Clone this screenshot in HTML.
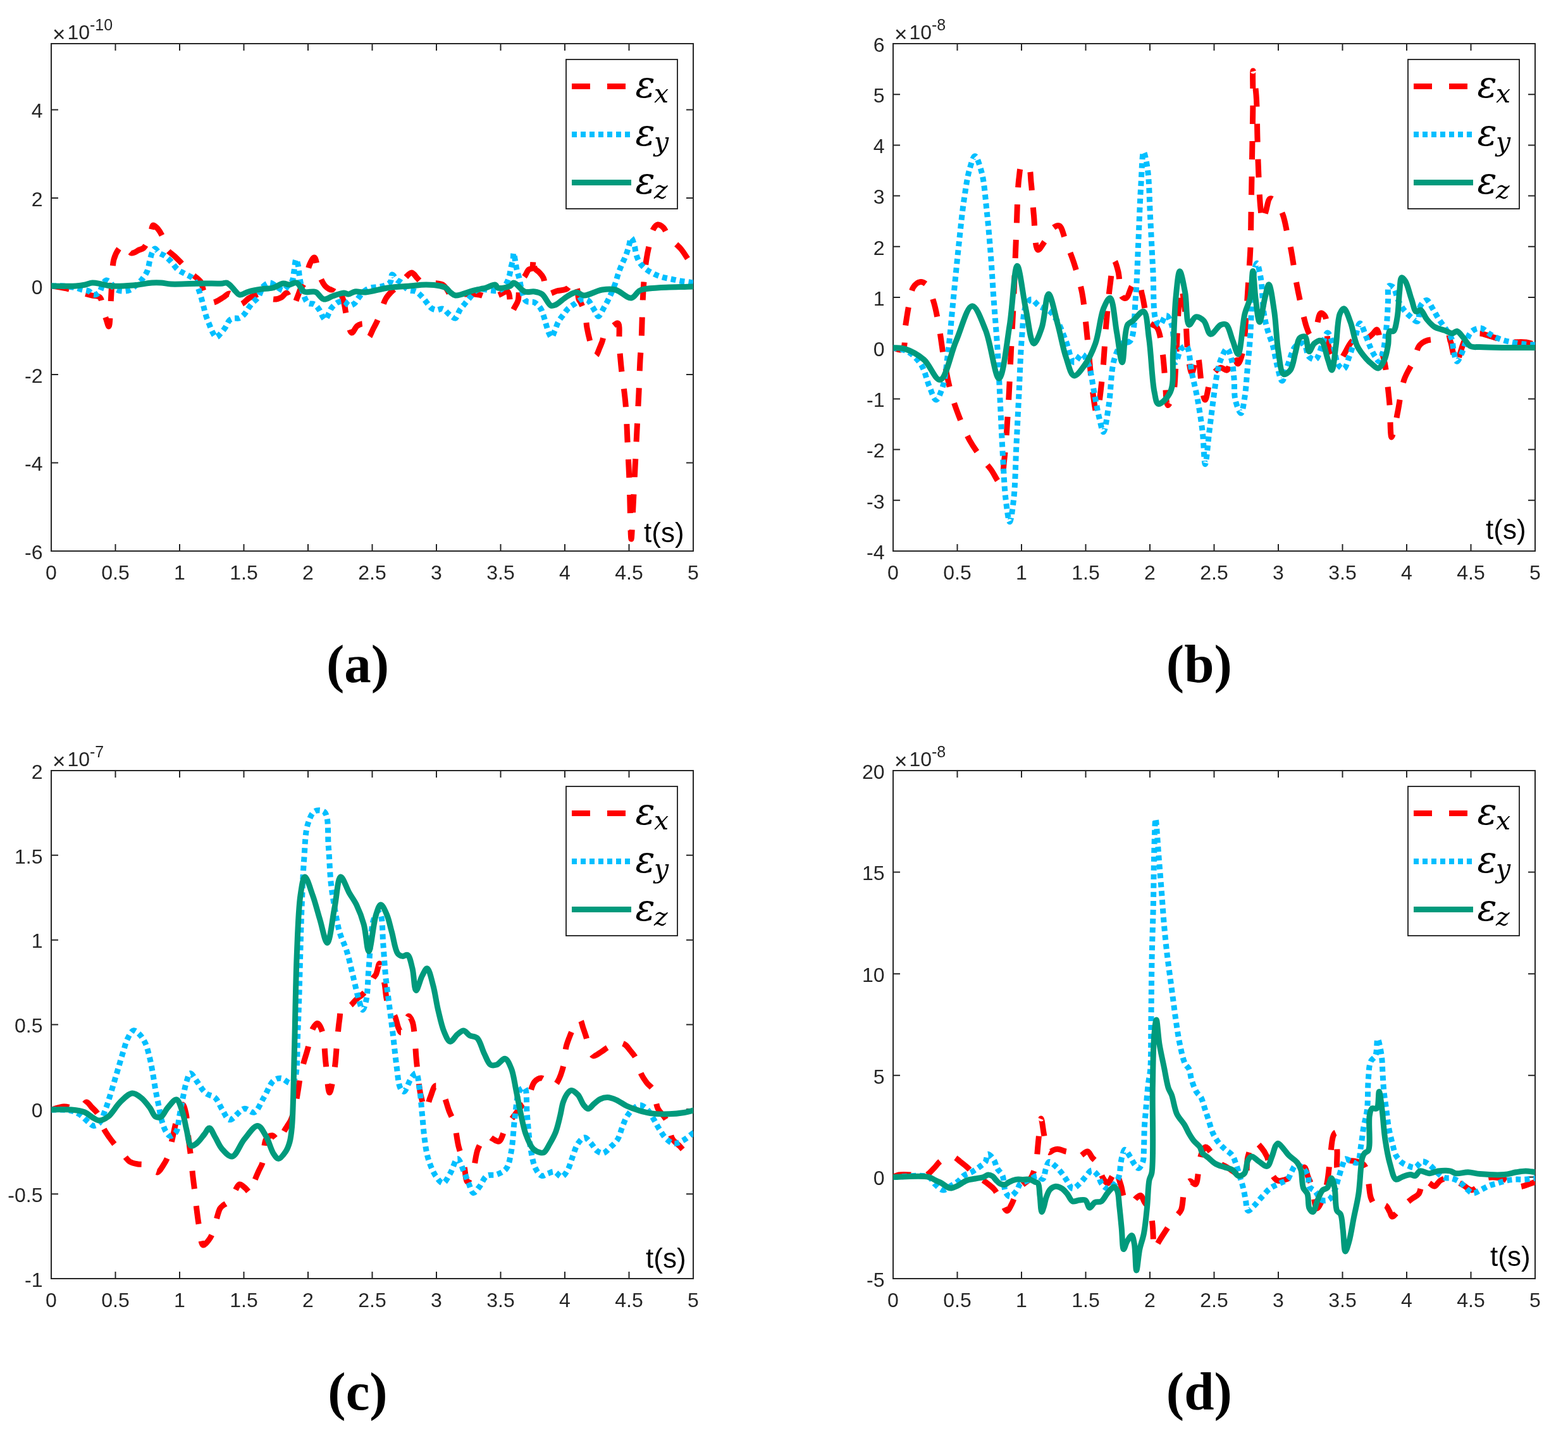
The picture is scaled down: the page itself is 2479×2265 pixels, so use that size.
<!DOCTYPE html><html><head><meta charset="utf-8"><title>Figure</title><style>html,body{margin:0;padding:0;background:#fff;}svg{display:block}.tk{font-family:"Liberation Sans",Arial,Helvetica,sans-serif;font-size:32px;fill:#262626}.ex{font-family:"Liberation Sans",Arial,Helvetica,sans-serif;fill:#262626}.ts{font-family:"Liberation Sans",Arial,Helvetica,sans-serif;font-size:44px;fill:#000}.lg{font-family:"DejaVu Serif","Liberation Serif",serif;font-style:italic;font-size:58px;fill:#000}.lgs{font-family:"DejaVu Serif","Liberation Serif",serif;font-style:italic;font-size:41px}.cap{font-family:"Liberation Serif","Times New Roman",serif;font-weight:bold;font-size:85px;fill:#000}</style></head><body>
<svg width="2479" height="2265" viewBox="0 0 2479 2265">
<rect width="2479" height="2265" fill="#fff"/>
<g id="axa">
<clipPath id="cla"><rect x="81" y="69" width="1015" height="802"/></clipPath>
<path d="M81,871v-11M81,69v11M182.5,871v-11M182.5,69v11M284,871v-11M284,69v11M385.5,871v-11M385.5,69v11M487,871v-11M487,69v11M588.5,871v-11M588.5,69v11M690,871v-11M690,69v11M791.5,871v-11M791.5,69v11M893,871v-11M893,69v11M994.5,871v-11M994.5,69v11M1096,871v-11M1096,69v11M81,871h11M1096,871h-11M81,731.5h11M1096,731.5h-11M81,592h11M1096,592h-11M81,452.6h11M1096,452.6h-11M81,313.1h11M1096,313.1h-11M81,173.6h11M1096,173.6h-11" stroke="#262626" stroke-width="2" fill="none"/>
<rect x="81" y="69" width="1015" height="802" fill="none" stroke="#262626" stroke-width="2"/>
<g clip-path="url(#cla)" fill="none" stroke-width="9" stroke-linejoin="round">
<path d="M81,452C85.7,452.7 90.7,453.3 95,454C98.6,454.6 101.3,455.1 105,456C109.5,457.1 115.5,458.7 120,460C123.7,461 126.3,462 130,463C134.5,464.3 140.2,465.8 145,467C149.5,468.1 155,467.1 158,470C161.7,473.7 161.2,483.8 163,490C164.6,495.4 166.4,500.4 168,505C169.4,509 170.9,516.1 172,516C173.9,515.8 174.2,491.9 175,480C175.8,468.3 176.2,456.7 177,445C177.8,433.3 177.5,419.4 180,410C181.8,403.1 185,397.2 188,393C190.2,389.9 192.3,386 195,386C198.7,386.1 203.4,399 208,400C211.8,400.8 216.5,396.5 220,395C222.6,393.9 224.9,393.8 227,392C229.8,389.5 232,384.3 234,380C236.1,375.4 237.5,369.4 239,365C240.1,361.6 240.3,356.6 242,356C243.5,355.5 246,358 248,360C250.8,362.8 253.6,367.2 256,372C259.1,378.1 260.2,388.3 264,394C267.2,398.8 272,401.2 276,405C280,408.9 283.9,412.7 288,417C292.5,421.7 297.1,427.3 302,432C306.8,436.6 313.7,440 317,445C320,449.5 320.2,455.6 322,460C323.5,463.7 324.8,467 327,470C329.2,473 332.1,477.2 335,478C337.5,478.7 340.3,477.1 343,476C346.2,474.7 349.7,472 353,470C356.3,468 360.2,463.5 363,464C365.8,464.5 367.3,470.2 370,473C372.9,475.9 376.3,480.9 380,481C384.2,481.1 389.7,473.4 394,471C397.2,469.2 400,468.2 403,467C406,465.8 408.5,463.8 412,464C417.4,464.3 426,472.4 432,473C436.7,473.5 441.4,471.9 445,470C448.2,468.3 450.8,462.6 453,463C455.1,463.4 456.3,468.8 458,472C459.9,475.5 462.1,483.1 464,483C466.1,482.9 468.1,474.5 470,470C472.1,465.2 473.8,459 476,455C477.6,452.1 479.4,451.4 481,448C484.2,441.5 486.5,424.3 490,417C492.1,412.5 494.9,406.6 497,407C500.2,407.5 501.6,426.9 505,435C507.8,441.8 511,449.2 515,453C518,455.8 522.3,458.7 525,458C527.6,457.3 529.1,448.9 531,449C533.1,449.1 535.1,456 537,460C539.1,464.6 541.3,469.3 543,475C545.1,482.2 545.9,491.6 548,500C550.2,508.6 552.5,525.3 556,526C558.6,526.5 561.5,517.3 565,515C568,513 572.5,510.8 575,512C577.8,513.4 578.6,521.2 580,525C581.1,528 581.7,532.9 583,533C584.8,533.1 587.7,524.4 590,520C592.4,515.4 594.9,510.9 597,506C599.2,500.9 600.9,495.5 603,490C605.2,484.2 607.1,476.9 610,472C612.3,468 614.9,465.2 618,462C621.4,458.5 626.3,455.7 630,452C633.7,448.3 636.4,443.6 640,440C643.4,436.6 647.6,430.8 651,431C654.2,431.2 657,437.2 660,440C662.7,442.5 664.3,445.5 668,447C673.4,449.2 685.1,447.2 691,448C694.7,448.5 697.4,448.5 700,450C702.8,451.7 704.8,455 707,458C709.5,461.3 710.8,467.6 714,469C716.9,470.3 721.4,467.7 725,467C728.4,466.3 731,465.3 735,465C741.1,464.5 751,464.8 758,466C764.2,467 769.6,471.2 775,471C779.9,470.9 784.3,467.7 789,466C793.7,464.3 799.8,459.1 803,461C807.9,463.9 805.2,493.4 808,494C809.6,494.4 812.2,488.1 814,485C815.9,481.8 817.7,479.3 819,475C821,468.3 819.5,455 822,448C823.8,442.9 827.6,439.8 830,436C832.2,432.5 833.7,427.9 836,426C837.5,424.7 839.8,425.6 841,424C843.4,420.9 842.7,404 843.5,404C844.2,404 843.3,419.5 845.5,424C847,427 849.9,427.7 852,430C854.4,432.6 857,435 859,439C862,445 861.4,461.4 866,464C869.4,465.9 875.1,461.3 880,460C885.4,458.6 892.8,458.9 897,456C900.8,453.3 902.4,444 905,444C907.4,444 910.3,450.7 912,455C914,460.1 913.5,468.9 915,473C915.8,475.3 916.9,475.8 918,478C920,482.1 923.3,489.6 925,496C926.8,502.9 926.7,510.7 928,518C929.3,525.4 931.3,533.7 933,540C934.3,544.9 935.4,549.1 937,553C938.4,556.4 940.3,562 942,562C943.9,562 946.3,553.9 948,550C949.6,546.5 950.6,543.7 952,540C953.6,535.5 954.3,528.9 957,525C959.5,521.5 963.6,519.4 967,517C970.3,514.7 974.8,509.8 977,511C980.8,513 978.2,532.8 979,544C979.8,555.5 980.7,565.8 982,579C983.7,596.1 987.3,618.3 989,638C990.7,657.6 991,677 992,697C993,717.7 994.1,737 995,760C996.1,787.8 996.8,852 998,852C998.9,852 1000,818 1001,800C1002,780.7 1003,760 1004,740C1005,720 1006,700 1007,680C1008,660 1009.1,639.1 1010,620C1010.8,602.6 1011.2,584.5 1012,570C1012.6,558.7 1013.4,551.7 1014,540C1014.8,523.4 1015.2,497.3 1016,480C1016.6,466.8 1017,456.7 1018,445C1019,433.3 1020.3,420.7 1022,410C1023.4,400.9 1025.1,393.1 1027,385C1028.8,377.1 1030,367.2 1033,362C1034.9,358.6 1037.4,355.4 1040,355C1042.7,354.6 1046.5,357.5 1049,360C1052,362.9 1053.2,368.2 1056,372C1058.9,375.9 1062.5,379.4 1066,383C1069.5,386.7 1073.4,389.6 1077,394C1081.4,399.3 1086.4,408.3 1090,413C1092.3,416 1094,417.7 1096,420" stroke="#ff0000" stroke-dasharray="29 27"/>
<path d="M81,452C87.3,452 93.6,451.5 100,452C106.6,452.5 114.5,453.8 120,455C123.9,455.9 126.6,457.2 130,458C133.3,458.8 137,458.7 140,460C143,461.3 145.2,465.7 148,466C150.8,466.3 154.6,464.4 157,462C160,459 160.7,451.3 163,448C164.5,445.7 166.1,443.3 168,443C170,442.7 173,445.1 175,447C177.1,449 177.5,452.9 180,455C182.9,457.5 187.8,459.5 192,460C196.4,460.6 201.8,459.8 206,458C210.2,456.2 213.7,452 217,449C220,446.3 222.5,444.2 225,441C227.9,437.3 231,432.8 233,428C235.1,422.9 235.6,416.3 237,411C238.3,406.4 239.3,401.2 241,398C242.2,395.8 243.4,393.1 245,393C247,392.9 249.4,398.1 252,400C254.4,401.8 257.3,402.2 260,404C263.3,406.2 266.7,409.6 270,413C273.7,416.8 276.9,422.6 281,426C284.7,429.1 288.9,430.6 293,433C297.3,435.6 302.7,437.4 306,441C309.4,444.7 311,450.2 313,455C315,459.8 316.5,465 318,470C319.5,475 320.7,480 322,485C323.3,490 324.4,495.2 326,500C327.5,504.5 329.3,508.8 331,513C332.6,517.1 334,521.5 336,525C337.7,528.1 339.9,532.8 342,533C343.9,533.2 346,530.1 348,528C350.6,525.3 353.5,521.6 356,518C358.6,514.3 360.2,508.5 363,506C365.1,504.2 367.5,503.5 370,503C372.5,502.5 375.5,503.8 378,503C380.8,502.1 383.8,499.3 386,497C388.1,494.9 389.2,492.5 391,490C393.1,487 395.3,483.2 398,480C400.9,476.5 405,474.1 408,470C411.5,465.1 413.2,455.8 417,452C419.9,449.1 423.5,446.8 427,447C431.1,447.2 436.1,452.9 440,455C442.9,456.6 445.6,459.4 448,459C450.6,458.6 452.7,454.5 455,452C457.4,449.5 460.3,447.4 462,444C464,439.8 464,433.5 465,428C466,422.2 466.7,410.1 468,410C468.9,409.9 470.1,414.6 471,418C472.4,423.5 472.6,432.4 474,440C475.5,448.3 477.3,459 480,466C482,471.2 483.8,476.6 487,479C489.7,481 494.1,479.3 497,481C500.2,482.8 502.8,486.8 505,490C507.1,493.1 508.3,497.3 510,500C511.3,502 512.6,505.1 514,505C515.9,504.9 518.3,498.2 520,495C521.5,492.2 522,489.6 524,487C526.4,483.9 530.4,479.8 534,478C537.1,476.4 541,475.2 544,476C547,476.8 549.2,482.5 552,483C554.5,483.5 557.7,481.7 560,480C562.5,478.2 563.8,474.9 566,472C568.7,468.6 571.6,463.9 575,461C578,458.4 581.7,456.1 585,455C587.7,454.1 590,454.4 593,454C596.8,453.5 602,453.4 606,452C609.9,450.7 614.7,449 617,446C619.3,443 618.2,434.4 620,434C621.7,433.6 624.4,439.8 627,442C629.4,444.1 632.3,444.8 635,447C638.3,449.8 641,455.7 645,458C648.8,460.2 654.2,459 658,461C661.8,463 665,466.8 668,470C671,473.1 673.5,477 676,480C678.1,482.6 679.6,485.3 682,487C684.3,488.6 687.1,489.8 690,490C693.1,490.3 697,487.2 700,488C703,488.8 705.5,492.9 708,495C710.1,496.8 711.9,498.6 714,500C715.9,501.3 718.2,503.6 720,503C722.7,502.1 724.4,493.9 727,490C729.4,486.3 732.2,483.4 735,480C737.9,476.4 741,472.5 744,469C747,465.6 749.7,461 753,459C755.8,457.4 758.7,457.1 762,457C765.9,456.9 770.5,458.7 775,459C779.8,459.4 785.8,460.7 790,459C794.1,457.3 797.5,452.8 800,449C802.4,445.4 803.7,441.3 805,437C806.4,432.3 806.9,426.7 808,422C809,417.8 810.3,413.8 811,410C811.6,406.5 811.4,400 812,400C813,400 815.3,418.7 817,426C818.3,431.4 819.7,435 821,440C822.4,445.8 823.1,452.9 825,459C826.8,464.9 828.2,473 832,476C835.3,478.6 841.2,476.1 845,478C848.9,480 852.5,484.1 855,488C857.5,491.8 858.5,496.6 860,501C861.5,505.5 862.6,510.5 864,515C865.3,519.2 866.4,523.8 868,527C869.2,529.4 870.7,533.1 872,533C873.7,532.9 875.3,526.7 877,523C879,518.5 880.5,512.5 883,508C885.3,503.9 888.4,500.5 891,497C893.4,493.8 895.2,490.7 898,488C901.1,485 905.3,482.5 909,480C912.6,477.5 916.3,473.7 920,473C923.3,472.4 927.4,473.2 930,475C932.7,476.8 934,480.9 936,484C938,487.2 940.2,491.1 942,494C943.4,496.3 944.4,500 946,500C948.4,500 952.2,490.8 955,486C957.9,481.1 960.4,476.5 963,471C966,464.6 969.4,456.9 972,450C974.4,443.6 975.9,436.9 978,431C979.9,425.7 982,420.6 984,416C985.7,412 987.4,409 989,405C990.8,400.4 992.5,394.9 994,390C995.5,385.3 996.4,376.1 998,376C999.5,375.9 1001.7,383.7 1003,388C1004.4,392.7 1004.5,398.3 1006,403C1007.5,407.6 1009.3,412.2 1012,416C1014.7,419.8 1018.3,423.2 1022,426C1025.7,428.8 1029.8,431 1034,433C1038.2,435 1042.5,436.7 1047,438C1051.5,439.3 1056.3,440 1061,441C1065.7,442 1070.2,443.2 1075,444C1079.9,444.8 1086.1,445.4 1090,446C1092.5,446.4 1094,446.7 1096,447" stroke="#00bfff" stroke-dasharray="8 6"/>
<path d="M81,452C94,452 110.1,452.7 120,452C126.2,451.6 130.4,450.9 135,450C139,449.2 142.1,447.2 146,447C150.4,446.7 155.3,448.2 160,449C164.9,449.8 168.9,451.5 175,452C184.2,452.8 198.8,451.9 210,451C220.4,450.2 231.7,447.6 240,447C245.8,446.6 250,446.7 255,447C260,447.3 263.5,448.6 270,449C281.8,449.7 305.2,448.1 320,448C331.9,447.9 345.6,448.5 352,448C354.8,447.8 356,446.5 358,447C360.4,447.5 362.8,450 365,452C367.5,454.2 369.6,457.6 372,460C374.3,462.2 376.1,465.5 379,466C382.7,466.7 387.9,462.4 393,461C399,459.3 406.5,458 413,457C419.1,456 425.2,456.5 431,455C436.9,453.5 443.2,448.4 448,448C451.4,447.7 453.8,450 457,450C460.7,450 465.3,445.8 469,447C473.5,448.4 476.3,458.8 481,461C485.1,462.9 491.5,460.7 495,461C497.1,461.2 498.1,461 500,462C503.3,463.7 507.5,472.1 512,473C516.3,473.9 521,469.6 526,468C531.6,466.2 539.4,463 544,463C546.9,463 548.5,465.1 551,465C554.1,464.8 557.1,461.6 561,461C565.8,460.2 571.4,462.5 578,462C587.6,461.3 601.3,456.7 613,455C624.6,453.3 637.2,452.9 648,452C657.3,451.2 665.7,449.9 674,450C681.6,450.1 690.3,450.8 696,452C699.7,452.8 702.4,453.4 705,455C707.7,456.7 709.5,460 712,462C714.5,464 716.3,466.5 720,467C726.5,468 740.3,461.1 749,459C756,457.3 762.1,456.6 768,455C773.3,453.6 779.8,449 783,450C785.1,450.6 784.8,454.1 787,455C790.9,456.5 802.8,454.1 807,452C809.5,450.7 809.7,447.1 812,447C816.1,446.7 823.9,458.9 830,461C834.9,462.7 840.3,460.2 845,461C849.3,461.7 853.2,462.3 857,465C862.1,468.6 866.6,481.2 871,483C873.4,484 875.3,483.1 878,482C882.8,480.1 890.1,472.5 896,469C901.1,466 906.3,462.1 911,462C915.2,461.9 918.1,466.8 923,467C930.5,467.4 943,459.4 952,458C959.5,456.9 965.9,456.3 973,458C981.2,460 991.1,471.8 998,471C1003.6,470.4 1006.1,461.7 1012,459C1019.2,455.7 1028.3,456 1039,455C1054.5,453.6 1077,453.7 1096,453" stroke="#009a7c"/>
</g>
<text class="tk" x="81" y="916" text-anchor="middle">0</text>
<text class="tk" x="182.5" y="916" text-anchor="middle">0.5</text>
<text class="tk" x="284" y="916" text-anchor="middle">1</text>
<text class="tk" x="385.5" y="916" text-anchor="middle">1.5</text>
<text class="tk" x="487" y="916" text-anchor="middle">2</text>
<text class="tk" x="588.5" y="916" text-anchor="middle">2.5</text>
<text class="tk" x="690" y="916" text-anchor="middle">3</text>
<text class="tk" x="791.5" y="916" text-anchor="middle">3.5</text>
<text class="tk" x="893" y="916" text-anchor="middle">4</text>
<text class="tk" x="994.5" y="916" text-anchor="middle">4.5</text>
<text class="tk" x="1096" y="916" text-anchor="middle">5</text>
<text class="tk" x="67.5" y="883.7" text-anchor="end">-6</text>
<text class="tk" x="67.5" y="744.2" text-anchor="end">-4</text>
<text class="tk" x="67.5" y="604.7" text-anchor="end">-2</text>
<text class="tk" x="67.5" y="465.3" text-anchor="end">0</text>
<text class="tk" x="67.5" y="325.8" text-anchor="end">2</text>
<text class="tk" x="67.5" y="186.3" text-anchor="end">4</text>
<text class="ex" x="83" y="65.5" font-size="35">×</text>
<text class="ex" x="106.5" y="61.7" font-size="32">10</text>
<text class="ex" x="142" y="47.8" font-size="25">-10</text>
<text class="ts" x="1018" y="857">t(s)</text>
<rect x="895" y="94" width="176" height="236" fill="#fff" stroke="#1a1a1a" stroke-width="1.8"/>
<line x1="904" y1="136.5" x2="998" y2="136.5" stroke="#ff0000" stroke-width="9" stroke-dasharray="29 27"/>
<text class="lg" x="1004.5" y="153.5">ε<tspan class="lgs" x="1034" y="162.0">x</tspan></text>
<line x1="904" y1="212.5" x2="998" y2="212.5" stroke="#00bfff" stroke-width="9" stroke-dasharray="8 6"/>
<text class="lg" x="1004.5" y="229.5">ε<tspan class="lgs" x="1034" y="238.0">y</tspan></text>
<line x1="904" y1="288.5" x2="998" y2="288.5" stroke="#009a7c" stroke-width="9"/>
<text class="lg" x="1004.5" y="305.5">ε<tspan class="lgs" x="1034" y="314.0">z</tspan></text>
</g>
<g id="axb">
<clipPath id="clb"><rect x="1412" y="69" width="1015" height="802"/></clipPath>
<path d="M1412,871v-11M1412,69v11M1513.5,871v-11M1513.5,69v11M1615,871v-11M1615,69v11M1716.5,871v-11M1716.5,69v11M1818,871v-11M1818,69v11M1919.5,871v-11M1919.5,69v11M2021,871v-11M2021,69v11M2122.5,871v-11M2122.5,69v11M2224,871v-11M2224,69v11M2325.5,871v-11M2325.5,69v11M2427,871v-11M2427,69v11M1412,871h11M2427,871h-11M1412,790.8h11M2427,790.8h-11M1412,710.6h11M2427,710.6h-11M1412,630.4h11M2427,630.4h-11M1412,550.2h11M2427,550.2h-11M1412,470h11M2427,470h-11M1412,389.8h11M2427,389.8h-11M1412,309.6h11M2427,309.6h-11M1412,229.4h11M2427,229.4h-11M1412,149.2h11M2427,149.2h-11M1412,69h11M2427,69h-11" stroke="#262626" stroke-width="2" fill="none"/>
<rect x="1412" y="69" width="1015" height="802" fill="none" stroke="#262626" stroke-width="2"/>
<g clip-path="url(#clb)" fill="none" stroke-width="9" stroke-linejoin="round">
<path d="M1410,549.5C1415.7,550.3 1423.3,554.8 1427,552C1432.3,548 1429.5,529.4 1431.2,517.7C1433,505.3 1435.1,491 1437.5,479.6C1439.5,470.2 1440.2,460 1443.9,454.2C1446.6,450 1450.8,446.2 1454.5,445.7C1457.9,445.2 1462,447 1465,450C1469.7,454.7 1472.6,465.9 1475.6,475.4C1479.2,486.7 1481.5,499.6 1484.1,513.5C1487.2,530.1 1489.3,550.6 1492.6,568.5C1495.7,585.8 1499,603.7 1503.2,619.3C1506.9,633 1511,644.8 1515.9,657.4C1520.9,670.2 1526.6,684.4 1532.8,695.6C1538.1,705.2 1543.9,713.1 1549.7,721C1555.2,728.5 1561.3,735 1566.7,742.1C1571.9,749.1 1578,764.1 1581.5,763.3C1585.8,762.3 1586.1,740.5 1587.9,725.2C1590.6,702.6 1592.4,668.7 1594.2,640.5C1595.9,612.3 1597,584 1598.4,555.8C1599.8,527.5 1601.4,500.8 1602.7,471C1604.2,437.7 1605.4,398.6 1606.9,365.3C1608.2,335.5 1608.6,298.7 1611.1,280.6C1612.3,271.9 1612.1,263.7 1615.4,261.5C1617.9,259.9 1623.5,261 1626,263.6C1629.9,267.6 1629,279.1 1630.2,289C1631.9,303 1632.7,322.5 1634.4,339.8C1636.2,357.8 1635.9,393.4 1640.8,394.9C1643.5,395.7 1647.9,387.1 1651.4,382.2C1655.7,376.2 1659.3,365.1 1664.1,361C1667.4,358.2 1671.7,355.5 1674.7,356.8C1679.4,358.8 1681.6,373.1 1685.2,382.2C1689.3,392.6 1694,403.7 1698,416C1702.6,430.2 1707.5,446.6 1710.7,462.6C1713.9,479.1 1715.2,497.3 1717,513.5C1718.6,528.2 1719.6,540.3 1721.2,555.8C1723.1,574.8 1725,601.5 1727.6,619.3C1729.5,632.4 1731.7,653.2 1733.9,653.2C1736.6,653.2 1740.1,618.6 1742.4,598.2C1745.3,573.1 1746.5,539.7 1748.8,513.5C1750.8,490.8 1752.6,468.5 1755.1,450C1757,435.6 1758.8,412.1 1761.5,411.8C1763.3,411.6 1766,421.8 1767.8,428.8C1770.5,439.3 1769.9,463.9 1774.2,469C1775.9,471.1 1778.5,471.9 1780.5,471.1C1784.3,469.5 1787,454.1 1791.1,450C1793.7,447.4 1797.3,444.7 1799.6,445.7C1803,447.2 1803.6,458.6 1805.9,466.9C1809.1,478.6 1810.7,501 1816.5,509.2C1819.9,514.1 1825.9,512.9 1829.2,517.7C1834.5,525.4 1835.6,542.7 1837.7,555.8C1839.9,569.5 1840.5,584.1 1841.9,598.2C1843.3,612.3 1843.1,639.9 1846.2,640.5C1848.3,640.9 1852.5,630.9 1854.6,623.6C1857.9,612.1 1857.6,594.9 1858.9,577C1860.6,553 1861.3,514.9 1863.1,492.3C1864.3,477.1 1865.5,454.2 1867.3,454.2C1869.1,454.1 1872,477.9 1873.7,492.3C1875.9,510.7 1875.6,538 1877.9,555.8C1879.6,568.9 1881.7,589.6 1884.3,589.7C1886.7,589.8 1890.2,559.8 1892.7,560C1896.2,560.2 1898.3,606.9 1901.2,619.3C1902.6,625.2 1903.8,632 1905.4,632C1908.2,631.9 1910.6,602.7 1916,593.9C1919.8,587.8 1925.5,582.1 1930,581.2C1933.4,580.6 1937.2,586.3 1940,585C1944.4,583 1945.8,560.2 1949,560C1951.5,559.8 1954.5,575.1 1957,575C1959.8,574.8 1963,563.5 1965,555C1968.3,541.4 1968.5,518.7 1970,500C1971.5,480.4 1972.8,459.1 1974,440C1975.1,422.6 1976.3,407.1 1977,390C1977.7,372.1 1977.7,353.3 1978,335C1978.3,316.7 1978.7,298.7 1979,280C1979.3,260.4 1979.7,240 1980,220C1980.3,200 1980.8,178.9 1981,160C1981.1,143.1 1980,112.1 1981,112C1981.9,111.9 1984.8,135.4 1986,150C1987.6,169.8 1987.3,197.6 1988,220C1988.6,240.8 1989.1,260.9 1990,280C1990.8,297.4 1991.6,317.1 1993,330C1993.9,338.2 1994.5,349.9 1996,350C1997.3,350.1 1999.2,340.4 2001,335C2003.1,328.6 2004.5,315.4 2008,314C2010.2,313.1 2013.4,315.6 2016,318C2020.2,322 2024.9,331.2 2028,339C2031.4,347.7 2032.8,358.6 2035,368C2037.1,376.9 2039,383.7 2041,394C2043.9,408.9 2047.1,433.6 2050,449C2052.1,460.2 2053.9,468.6 2056,478C2058,486.9 2060.1,496.7 2062,504C2063.4,509.4 2064.3,513.6 2066,518C2067.6,522.2 2069.6,529.7 2072,530C2074.3,530.2 2077.7,524.4 2080,520C2083.3,513.8 2084.4,496.2 2088,495C2090,494.3 2093.2,496.9 2095,500C2099.2,507.2 2097,533.2 2100,545C2102,553.2 2104.2,560.9 2108,565C2110.7,568 2115.2,570.7 2118,570C2120.9,569.3 2122.4,564 2125,560C2128.6,554.5 2132.3,544.8 2137,540C2140.8,536.1 2145.8,532.5 2150,532C2153.4,531.5 2156.8,535.5 2160,535C2163.5,534.4 2167.1,530.5 2170,528C2172.7,525.8 2175,520.4 2177,521C2180.5,522 2181.7,542.1 2184,552C2186.1,561.1 2188.4,568.8 2190,578C2191.8,588.1 2192.8,599.5 2194,610C2195.1,620.2 2196.1,628.7 2197,640C2198.2,654.7 2197.8,690.7 2200,691C2201.3,691.2 2203.5,681 2205,675C2206.9,667.6 2208,659.8 2210,650C2212.8,636.2 2215.1,614.3 2220,600C2224,588.4 2230.7,579.6 2235,570C2238.9,561.4 2239.8,550.5 2245,545C2249.4,540.4 2256.6,537.6 2262,537C2266.5,536.5 2270.5,540.2 2275,540C2279.9,539.8 2286.3,533.1 2290,535C2294.8,537.4 2295.6,552.7 2298,560C2299.8,565.6 2301.3,575 2303,575C2304.7,575 2305.9,565.6 2308,560C2310.7,552.7 2312.6,540.5 2318,535C2322.7,530.2 2330.4,527.5 2337,527C2343.7,526.4 2350.7,530 2358,532C2366.2,534.2 2375,538.5 2384,540C2393.3,541.6 2405,539.8 2413,541C2418.9,541.9 2423,543.7 2428,545" stroke="#ff0000" stroke-dasharray="29 27"/>
<path d="M1410,549.5C1418.5,551.6 1427.8,551.5 1435.4,555.8C1443.5,560.4 1451.1,568.4 1456.6,577C1462.7,586.4 1465,601 1469.3,610.9C1472.8,618.9 1476.4,632 1479.9,632C1483.4,632 1487.6,619.9 1490.5,610.9C1494.9,597.1 1496.4,576.2 1499,555.8C1502.2,530.6 1504.6,499.2 1507.4,471C1510.2,442.8 1513,413.5 1515.9,386.4C1518.6,361.4 1521.1,335.7 1524.3,314.4C1526.9,297.2 1529.2,280.3 1532.8,267.9C1535.3,259.3 1538.3,246.7 1541.3,246.7C1544.6,246.7 1549,261.4 1551.9,272C1556.3,288.2 1557.9,313.7 1560.3,335.6C1562.9,358.8 1564.9,384.4 1566.7,407.6C1568.4,429.4 1569.3,448.3 1570.9,471C1572.8,497.2 1575.5,527.5 1577.3,555.8C1579.1,584 1580.1,612.3 1581.5,640.5C1582.9,668.7 1584.2,699 1585.7,725.2C1587,747.9 1587.8,770.6 1590,788.7C1591.7,802.4 1594.2,824.7 1596.3,824.7C1598.4,824.7 1601,803.3 1602.7,788.7C1605.2,766.5 1605.5,732.2 1606.9,704C1608.3,675.8 1609.7,647.5 1611.1,619.3C1612.5,591.1 1613.3,559.2 1615.4,534.6C1617.1,515.5 1617.4,494.1 1621.7,483.8C1623.9,478.5 1626.9,473.5 1630.2,473.2C1633.9,472.8 1638.2,480.7 1642.9,483.8C1648,487.1 1655,488.3 1659.8,492.3C1664.9,496.6 1668.6,502.5 1672.5,509.2C1677.3,517.5 1681.1,528.6 1685.2,538.9C1689.6,549.8 1692.7,571.6 1698,572.7C1701.7,573.5 1706.9,559.6 1710.7,560C1714.7,560.5 1718.3,569.7 1721.2,577C1725.4,587.7 1726.9,605.2 1729.7,619.3C1732.5,633.4 1735.3,650.1 1738.2,661.7C1740.3,670 1742.4,682.9 1744.5,682.8C1747.4,682.7 1750.4,656.5 1753,640.5C1756.3,619.7 1756.3,586.1 1761.5,568.5C1764.8,557.5 1768.8,547.6 1774.2,543C1777.9,539.8 1783.6,542.9 1786.9,538.9C1794.4,529.8 1793.3,494.9 1795.4,471C1797.7,444.4 1798.2,415.3 1799.6,386.4C1801,356.1 1802.1,320 1803.8,293.3C1805.1,273.1 1805.7,240.5 1808,240.3C1809.7,240.2 1812.8,256.3 1814.4,267.9C1817.1,286.9 1817.2,317.9 1818.6,344C1820.1,371.5 1821.4,401.3 1822.9,428.8C1824.3,454.9 1822.6,492.6 1827.1,505C1828.8,509.6 1831.1,513.5 1833.5,513.5C1836.6,513.5 1840.8,498.4 1844,498.6C1847.1,498.7 1850.3,506.6 1852.5,513.5C1856.7,526.4 1855.3,572.2 1858.9,572.7C1861.1,573 1863.5,555.7 1867.3,551.6C1869.7,548.9 1873.4,546.2 1875.8,547.3C1880.8,549.7 1881.4,576 1884.3,589.7C1887,602.8 1890.1,613.9 1892.7,627.8C1895.8,644.4 1899.1,664.8 1901.2,682.8C1903.2,700.1 1903.6,733.7 1905.4,733.7C1907.2,733.7 1909.7,699.8 1911.8,682.8C1913.9,665.9 1916,648.1 1918.2,632C1920.2,617.2 1922.1,601.3 1924.5,589.7C1926.2,581.4 1927.3,575.1 1930,568.5C1932.6,562.2 1937.1,550.8 1940,551C1942.7,551.2 1945.2,561.4 1947,568C1949.3,576.5 1950,587.7 1951,598C1952.1,609 1950.7,622.2 1953,632C1954.9,640 1959.6,653.2 1962,653C1964.6,652.8 1966.4,636.8 1968,627C1970,614.7 1970.7,599.7 1972,585C1973.5,568.8 1975.3,551.3 1976.5,534C1977.7,516 1977.9,496.9 1979,479C1980.1,461.8 1980.8,439.6 1983,428.5C1984.1,422.8 1985.6,416 1987,416C1989,416.1 1991.8,431.1 1993.5,441C1995.9,454.9 1995.6,477.3 1997.7,492C1999.4,503.3 2001.4,512.3 2004,521.7C2006.4,530.5 2010.1,538.1 2012.5,547C2015.1,556.5 2016.5,567.5 2019,577C2021.3,585.8 2024.2,601.9 2027,602C2029.8,602.1 2032.6,585.7 2036,577C2039.7,567.4 2042.9,552.2 2048.5,547C2052.1,543.7 2057.7,541.5 2061,543C2065.4,545 2065.6,560 2069.7,564C2072.6,566.8 2077,569.2 2080,568C2084.7,566 2087.6,550.5 2091,543C2093.8,536.8 2096.3,526 2099,526C2102,526.1 2105.3,539.3 2108,547C2111.1,556 2111.9,571.2 2116,577C2118.4,580.4 2122.2,583.7 2124.7,583C2128.2,582 2130.3,570.9 2133,564C2136,556.2 2138.8,547.3 2141.6,538.6C2144.5,529.6 2146.7,511.2 2150,511C2153.1,510.8 2157.6,527 2160.6,534C2163.1,539.8 2164.7,544.9 2167,550C2169.2,554.9 2171.8,560.2 2174.3,564C2176.2,566.9 2178.5,571.6 2180.3,571.3C2182.6,571 2184.7,562.8 2186.3,557C2188.6,548.8 2189.8,536.2 2191,526C2192.2,516.2 2192.9,506.2 2193.5,497C2194,488.7 2194.2,481.1 2194.6,473.4C2195,466.1 2193.1,453.7 2195.8,451.9C2197.4,450.8 2201,452.3 2203,454.3C2206.3,457.5 2207.2,467.4 2210,473.4C2212.8,479.3 2215.9,485.1 2219.7,490C2223.2,494.6 2227.8,498.8 2231.7,502C2234.9,504.5 2238.7,509 2241,508C2244.5,506.5 2242.7,488.8 2246,483C2248.4,478.9 2252.6,474.3 2255.6,474.6C2259,475 2262,483 2265,487.7C2268.3,492.9 2271.2,498.9 2274.7,504.4C2278.3,510.1 2283.1,515.8 2286.6,521.2C2289.8,526.1 2293,530 2295,535.5C2297.3,541.8 2297,550.6 2298.6,557C2299.9,562.3 2301.4,571.1 2303.4,571.3C2305.4,571.5 2308.3,563.9 2310.5,559.4C2313.2,553.9 2314.9,546.4 2317.7,540.3C2320.4,534.4 2322.7,527.1 2327,523.5C2330.9,520.3 2336.9,518.2 2341.6,518.8C2346.6,519.5 2351.1,525.5 2356,528.3C2360.7,531 2365.3,533.5 2370.3,535.5C2375.6,537.6 2380.9,539 2387,540.3C2394.2,541.9 2403.7,543.2 2411,544C2417.1,544.7 2422.3,544.7 2428,545" stroke="#00bfff" stroke-dasharray="8 6"/>
<path d="M1410,549.5C1417.1,550.2 1423.8,549.2 1431.2,551.6C1440.5,554.6 1451.9,560.9 1460.8,568.5C1470.5,576.8 1478.5,601.4 1486.2,600.3C1496,598.9 1502.9,558.7 1511.6,538.9C1519.9,520 1528.6,484.1 1537,483.8C1544.1,483.5 1551.9,506.6 1558.2,521.9C1566.7,542.6 1573.2,598.4 1579.4,598.2C1585.9,598 1591.6,542.5 1596.3,513.5C1601.2,483.3 1603.5,420.5 1608.2,420.3C1612.2,420.2 1617.1,466.6 1621.7,488C1625.9,507.3 1629.1,542.4 1634.4,543C1638.1,543.4 1643.6,528 1647.1,517.7C1652,503.5 1653.4,465 1657.7,464.8C1661.9,464.6 1667.9,497 1672.5,513.5C1677.1,530.2 1680.3,549.8 1685.2,564.3C1689.1,575.7 1692.5,592.9 1698,593.9C1702.7,594.8 1709.8,584.1 1714.9,577C1721.4,568 1727.1,556 1731.8,543C1737.5,527.1 1739.2,500.8 1744.5,488C1747.7,480.4 1752.1,470.4 1755.1,471C1760.1,471.9 1762.4,508.6 1765.7,526.2C1768.7,542.4 1771.5,572.8 1774.2,572.7C1777.2,572.6 1777,522.9 1782.6,513.5C1784.9,509.5 1787.8,509.7 1791.1,507.1C1795.8,503.3 1803.9,490.9 1808,492.3C1813.7,494.2 1814,518 1816.5,534.6C1820,557.9 1821.2,601.3 1825,619.3C1826.9,628.1 1827.6,637.5 1831.3,638.4C1835.6,639.4 1846.2,628.6 1850.4,619.3C1856.9,605 1853.3,578.5 1854.6,555.8C1856.1,529.6 1856.6,494.3 1858.9,471C1860.6,454.5 1862.6,428.9 1865.2,428.8C1867.6,428.7 1871.4,450.1 1873.7,462.6C1876.5,477.8 1875.3,512.1 1880,513.5C1882.7,514.3 1886.5,501.7 1890.6,500.8C1894.4,500 1899.7,503.5 1903.3,507.1C1907.9,511.7 1909.3,527.5 1913.9,528.3C1918.3,529.1 1925.1,515.6 1930,513.5C1933,512.2 1936,511.4 1938.5,513C1943,515.9 1945.7,530.5 1949,538.6C1952,546 1954.9,560 1957.5,559.7C1961.8,559.2 1963.9,512.2 1968,496C1970.6,485.6 1974.4,480.6 1976.5,471C1979.1,458.8 1979.4,428.5 1980.8,428.5C1982.2,428.5 1983.2,457.3 1985,471C1986.7,484.1 1988.9,508.9 1991.4,509C1993.9,509.1 1997,481.8 1999.8,471C2001.9,462.8 2003.9,449.6 2006,449.7C2008.9,449.8 2012.2,476.4 2014.6,492C2017.5,511 2018,537.4 2021,555.5C2023.3,569.3 2024.6,589.5 2029.5,591.5C2032.3,592.7 2037.2,588.7 2040,585C2044.5,579.1 2045.9,564.5 2048.5,555.5C2050.7,547.8 2051.2,537.7 2054.8,534.3C2057,532.2 2061,530.9 2063.3,532.2C2067,534.4 2066.8,555 2069.7,555.5C2072,555.9 2074.5,545.6 2078,542.8C2081,540.3 2085.7,537.2 2088.7,538.6C2093.7,540.9 2096.2,559.5 2099.3,568C2101.7,574.4 2103.8,585.2 2105.6,585C2108.3,584.7 2110,560.6 2112,547C2114.3,531.3 2114.4,505.5 2118.3,496C2120.1,491.7 2122.5,487.6 2124.7,487.8C2128,488.1 2131.9,500.7 2135,509C2139.1,519.7 2140.9,536.7 2145.8,547C2149.7,555.1 2155.5,561.8 2160,567C2163.3,570.8 2166.3,573.4 2169.6,576C2172.6,578.4 2176.1,582.5 2179,582C2182.5,581.4 2186.2,574.3 2188.7,569C2191.8,562.5 2193.2,552.8 2194.6,545C2195.9,537.7 2194.2,526 2197,523.5C2198.5,522.2 2201.3,524.8 2203,523.5C2206.2,521.1 2207.5,510.4 2209,502C2211.1,490.7 2211.2,473 2212.6,461.4C2213.6,452.7 2213.5,439.5 2216,438.7C2217.5,438.2 2220.1,441.6 2222,444.7C2225.6,450.5 2228.6,464.8 2231.7,473.4C2234.2,480.4 2235.6,490.9 2238.9,492.5C2240.9,493.4 2243.7,489.2 2246,490C2249.4,491.1 2252,500 2255.6,504.4C2259.2,508.8 2262.8,513.4 2267.5,516.4C2272.3,519.5 2279.2,520.5 2284.3,522.4C2288.6,524 2292.6,527.1 2296,527C2298.8,526.9 2300.9,523.1 2303.4,523.5C2306.6,524 2309.7,529.4 2313,533C2316.9,537.2 2320.3,544.9 2325,547.4C2329.1,549.5 2333.2,548.3 2339,548.6C2348.2,549.1 2361.8,549.3 2375,549.4C2391,549.6 2410.3,549.4 2428,549.4" stroke="#009a7c"/>
</g>
<text class="tk" x="1412" y="916" text-anchor="middle">0</text>
<text class="tk" x="1513.5" y="916" text-anchor="middle">0.5</text>
<text class="tk" x="1615" y="916" text-anchor="middle">1</text>
<text class="tk" x="1716.5" y="916" text-anchor="middle">1.5</text>
<text class="tk" x="1818" y="916" text-anchor="middle">2</text>
<text class="tk" x="1919.5" y="916" text-anchor="middle">2.5</text>
<text class="tk" x="2021" y="916" text-anchor="middle">3</text>
<text class="tk" x="2122.5" y="916" text-anchor="middle">3.5</text>
<text class="tk" x="2224" y="916" text-anchor="middle">4</text>
<text class="tk" x="2325.5" y="916" text-anchor="middle">4.5</text>
<text class="tk" x="2427" y="916" text-anchor="middle">5</text>
<text class="tk" x="1398.5" y="883.7" text-anchor="end">-4</text>
<text class="tk" x="1398.5" y="803.5" text-anchor="end">-3</text>
<text class="tk" x="1398.5" y="723.3" text-anchor="end">-2</text>
<text class="tk" x="1398.5" y="643.1" text-anchor="end">-1</text>
<text class="tk" x="1398.5" y="562.9" text-anchor="end">0</text>
<text class="tk" x="1398.5" y="482.7" text-anchor="end">1</text>
<text class="tk" x="1398.5" y="402.5" text-anchor="end">2</text>
<text class="tk" x="1398.5" y="322.3" text-anchor="end">3</text>
<text class="tk" x="1398.5" y="242.1" text-anchor="end">4</text>
<text class="tk" x="1398.5" y="161.9" text-anchor="end">5</text>
<text class="tk" x="1398.5" y="81.7" text-anchor="end">6</text>
<text class="ex" x="1414" y="65.5" font-size="35">×</text>
<text class="ex" x="1437.5" y="61.7" font-size="32">10</text>
<text class="ex" x="1473" y="47.8" font-size="25">-8</text>
<text class="ts" x="2349" y="852">t(s)</text>
<rect x="2226" y="94" width="176" height="236" fill="#fff" stroke="#1a1a1a" stroke-width="1.8"/>
<line x1="2235" y1="136.5" x2="2329" y2="136.5" stroke="#ff0000" stroke-width="9" stroke-dasharray="29 27"/>
<text class="lg" x="2335.5" y="153.5">ε<tspan class="lgs" x="2365" y="162.0">x</tspan></text>
<line x1="2235" y1="212.5" x2="2329" y2="212.5" stroke="#00bfff" stroke-width="9" stroke-dasharray="8 6"/>
<text class="lg" x="2335.5" y="229.5">ε<tspan class="lgs" x="2365" y="238.0">y</tspan></text>
<line x1="2235" y1="288.5" x2="2329" y2="288.5" stroke="#009a7c" stroke-width="9"/>
<text class="lg" x="2335.5" y="305.5">ε<tspan class="lgs" x="2365" y="314.0">z</tspan></text>
</g>
<g id="axc">
<clipPath id="clc"><rect x="81" y="1218" width="1015" height="803"/></clipPath>
<path d="M81,2021v-11M81,1218v11M182.5,2021v-11M182.5,1218v11M284,2021v-11M284,1218v11M385.5,2021v-11M385.5,1218v11M487,2021v-11M487,1218v11M588.5,2021v-11M588.5,1218v11M690,2021v-11M690,1218v11M791.5,2021v-11M791.5,1218v11M893,2021v-11M893,1218v11M994.5,2021v-11M994.5,1218v11M1096,2021v-11M1096,1218v11M81,2021h11M1096,2021h-11M81,1887.2h11M1096,1887.2h-11M81,1753.3h11M1096,1753.3h-11M81,1619.5h11M1096,1619.5h-11M81,1485.7h11M1096,1485.7h-11M81,1351.8h11M1096,1351.8h-11M81,1218h11M1096,1218h-11" stroke="#262626" stroke-width="2" fill="none"/>
<rect x="81" y="1218" width="1015" height="803" fill="none" stroke="#262626" stroke-width="2"/>
<g clip-path="url(#clc)" fill="none" stroke-width="9" stroke-linejoin="round">
<path d="M81,1754C87.7,1752.3 94.4,1749.3 101,1749C107.4,1748.7 114.7,1752.6 120,1752C123.9,1751.6 127.1,1749.8 130,1748C132.7,1746.4 134.6,1741.9 137,1742C139.6,1742.1 142.2,1747.1 145,1750C148.2,1753.3 152.1,1756.3 155,1761C158.7,1767 160.6,1777.4 164,1784C166.8,1789.4 169.8,1793.5 173,1798C176.2,1802.5 179.5,1806.6 183,1811C186.8,1815.6 191.2,1820.6 195,1825C198.5,1828.9 201.1,1833.5 205,1836C208.8,1838.4 213.9,1839.2 218,1840C221.5,1840.7 224.6,1839.9 228,1841C232,1842.3 236.3,1845.9 240,1848C243.2,1849.8 246.2,1853.5 249,1853C252.3,1852.4 255.4,1846 258,1842C260.7,1838 262.9,1834.3 265,1829C267.8,1821.8 269.8,1811 272,1802C274.2,1793 275.8,1783.3 278,1775C279.9,1767.8 281.8,1760.3 284,1755C285.6,1751.3 287.5,1745.9 289,1746C290.9,1746.2 292.7,1754.4 294,1760C295.8,1768 296,1780.5 297,1790C298,1798.7 299.1,1807.7 300,1815C300.7,1820.6 301.3,1824.1 302,1830C303,1838.3 303.9,1850.6 305,1860C306,1868.5 307,1875.7 308,1884C309,1893 309.8,1902.7 311,1912C312.2,1921.3 313.3,1930.7 315,1940C316.7,1949.4 317.4,1966.8 321,1968C323.3,1968.8 327.4,1963.3 330,1960C332.9,1956.4 334.9,1952.2 337,1947C339.8,1940 341.9,1927.8 344,1921C345.4,1916.5 346.2,1912.8 348,1910C349.4,1907.8 351.2,1906.5 353,1905C354.8,1903.5 356.9,1903.1 359,1901C362.4,1897.6 366.6,1890.1 370,1885C373.1,1880.5 375.3,1872.7 378.6,1872C381.4,1871.4 385.1,1875.7 388,1878C390.9,1880.2 393.8,1886.1 396,1885.5C399.2,1884.7 400.6,1871.3 403,1865C405.1,1859.6 407.3,1854.7 409.4,1850C411.3,1845.8 413.4,1843.3 415,1838C417.7,1829 416.4,1806.5 421,1800C423.5,1796.5 427.4,1794.5 430.6,1794.8C434.4,1795.2 439.1,1805.2 442,1804.5C445,1803.8 445.8,1794.3 448,1790C449.9,1786.3 452,1783.3 454,1780C456,1776.7 458.1,1774.2 460,1770C462.8,1763.7 465.4,1752.9 467.3,1745C469,1738 469.8,1732 471,1725C472.4,1717.1 473.4,1707.8 475,1700C476.4,1692.9 478.1,1686.8 480,1680C482,1672.8 484.3,1666.1 486.5,1658C489.2,1648.1 491.3,1631.9 495,1625C497.1,1621.2 499.8,1617.1 502,1617.4C504.7,1617.7 507.7,1624.8 509.7,1631C513.3,1642 513.1,1663.8 515,1680C516.9,1695.8 518.5,1726.9 521,1727C523.3,1727.1 527,1702.1 529,1689C531.1,1675.2 531.6,1659.5 533,1646C534.2,1633.9 535.2,1621.8 536.7,1611.7C537.9,1603.6 537.4,1592.9 541,1590C543.6,1588 548.6,1591.7 552,1590.4C556,1588.9 559.2,1583.4 563,1580C566.9,1576.6 571.6,1573.5 575,1570C578.1,1566.8 580.6,1563.8 583,1560C585.7,1555.8 587.8,1549.6 590,1546C591.5,1543.5 593.1,1542.7 594.5,1540C596.6,1535.9 598.4,1522.9 600,1523C601.6,1523.1 602.6,1534.5 604,1540C605.3,1545.2 606.8,1549.2 608,1555C609.6,1562.6 609.6,1574.3 612,1582C614,1588.2 617.6,1593.3 620,1598C621.9,1601.7 623.5,1604.1 625,1608C626.9,1612.8 628.1,1620.7 630,1625C631.2,1627.9 632.6,1632.1 634,1632C635.9,1631.9 637.9,1622.5 640,1618C641.9,1613.8 643.9,1606.1 646,1606C647.9,1605.9 650.5,1610.9 652,1615C654.6,1621.9 655,1635.2 656,1645C657,1654.2 657.2,1662.9 658,1672C658.8,1681.3 659.9,1690.5 661,1700C662.2,1709.8 662.8,1720.7 665,1730C667,1738.5 670.4,1754 673,1754C675.4,1754 677.4,1741.3 680,1735C682.7,1728.6 685.4,1716.5 689,1716C692.2,1715.5 696.8,1722.8 700,1728C704.3,1735.1 706.7,1747.6 710,1756C712.7,1763 715.7,1767.5 718,1775C721.1,1785.2 722.2,1800.8 725,1812C727.4,1821.5 730.7,1829 733,1838C735.4,1847.6 736.1,1867.6 739,1868C741.4,1868.3 745.4,1857.2 748,1850C751.4,1840.4 751.7,1824.7 756,1815C759.6,1807 765.4,1796.1 770,1795C773,1794.3 775.9,1798.5 779,1800C782.2,1801.5 786,1805.2 789,1804C793.6,1802.2 795.7,1788.1 800,1781C804.1,1774.2 809.6,1767.8 814,1762C817.8,1756.9 821.5,1751.7 825,1748C827.7,1745.1 830.5,1744.6 833,1741C837.5,1734.6 839.8,1715.9 845,1710C848.2,1706.3 852.3,1703.7 856,1704C860.3,1704.3 865.2,1712.1 869,1714C871.6,1715.3 873.9,1716.6 876,1716C878.3,1715.3 880.1,1712.3 882,1709C885.2,1703.4 888.8,1692.8 891,1684C893.3,1674.8 893.1,1663 895,1655C896.4,1649.1 898.2,1644.7 900,1640C901.6,1635.7 903.1,1632 905,1628C907,1623.7 909.5,1617.6 912,1615C913.6,1613.3 915.6,1611.5 917,1612C919.2,1612.8 920.4,1620.5 922,1625C923.7,1629.8 925.4,1634.6 927,1640C928.8,1646.2 929.7,1654.8 932,1660C933.7,1663.8 935.2,1668.3 938,1669C941.1,1669.8 946.3,1665.2 950,1663C953.6,1660.9 956.3,1658.3 960,1656C964.4,1653.3 970.1,1648.7 975,1648C979.4,1647.4 984.4,1648.9 988,1651C991.4,1653 993.3,1656.7 996,1660C999,1663.7 1002.3,1667 1005,1672C1008.6,1678.8 1010.5,1690.8 1014,1698C1016.7,1703.6 1019.7,1707.7 1023,1712C1026.1,1716 1030.4,1718 1033,1723C1036.7,1730 1036.4,1744.5 1040,1752C1042.7,1757.5 1047.2,1760.9 1050,1765C1052.4,1768.5 1054.2,1770.8 1056,1775C1058.7,1781.3 1059.2,1793.5 1063,1800C1066.1,1805.2 1071.2,1808 1075,1812C1078.5,1815.7 1081.4,1819.5 1085,1823C1088.7,1826.5 1093,1829.7 1097,1833" stroke="#ff0000" stroke-dasharray="29 27"/>
<path d="M81,1754C90.7,1754.3 102.1,1753.4 110,1755C115.8,1756.2 119.9,1757.8 124.7,1760.7C130.3,1764 136.6,1771.4 141,1774.7C143.7,1776.8 145.5,1779.2 148,1779.4C150.8,1779.6 154.6,1777.5 157.3,1774.7C161.3,1770.5 163.9,1760.8 166.7,1753.7C169.4,1746.8 171.4,1739.9 173.7,1732.7C176.1,1725.2 178.4,1717.2 180.7,1709.4C183,1701.6 185.4,1693.8 187.7,1686C190,1678.2 192.3,1670.2 194.7,1662.7C197,1655.5 198.7,1647.7 201.7,1641.7C204.3,1636.7 207.5,1629.5 211,1628.8C213.9,1628.2 217.5,1631.9 220.4,1634.7C223.9,1638.1 227.1,1643.2 229.7,1648.7C232.8,1655.3 234.7,1664.2 236.7,1672C238.6,1679.7 239.9,1687.2 241.4,1695.4C243,1704.3 244.4,1714.5 246,1723.4C247.5,1731.5 249.1,1738.9 250.7,1746.7C252.3,1754.5 253.3,1762.7 255.4,1770C257.3,1776.7 259.5,1784.2 262.4,1788.7C264.4,1791.9 266.8,1795.5 269.4,1795.7C272.2,1795.9 276.4,1792.3 278.7,1788.7C282,1783.5 281.8,1773.7 283.4,1765.4C285.3,1755.9 287.2,1744.7 289.2,1735C291.1,1726.1 292.6,1716.4 295,1709.4C296.7,1704.3 298.3,1696.8 300.9,1696.5C303.7,1696.1 307.7,1704.7 311.4,1709.4C315.8,1715 320.1,1723.7 325.4,1728C329.8,1731.6 335.9,1731.2 340,1735C344.9,1739.4 347.6,1748.3 351.6,1754.3C355.3,1759.8 358.1,1769.1 363,1769.8C369.1,1770.7 379.1,1753.4 386.3,1752.4C391.7,1751.6 397.1,1759.7 401.7,1758.2C407.7,1756.3 412,1743.1 417,1735C422.3,1726.4 426.8,1712.7 432.6,1708C436.2,1705.1 440,1703.9 444,1704.2C448.9,1704.5 455.7,1712.7 459.6,1712C462.5,1711.5 464.3,1709.1 466,1705C471,1693.3 469.5,1658.8 471,1627C473.4,1577.1 475,1484.1 477,1434.3C478.3,1402.7 479,1380.4 480.8,1357C482.3,1337.4 482.3,1316.5 486.5,1303C489.3,1294 492.7,1284.7 498,1282C502.2,1279.8 509.8,1280.2 513.5,1284C520.4,1291.1 517.7,1319.7 519.3,1338C521,1356.9 521.3,1378.4 523.2,1395.7C524.7,1409.9 526.8,1421.5 529,1434.3C531.3,1447.2 533.3,1460.8 536.7,1472.8C539.8,1483.8 544.9,1492.7 548.3,1503.7C552.1,1515.7 554.8,1529.4 558,1542.2C561.2,1555.1 564.4,1570.9 567.5,1580.8C569.5,1587.2 571.4,1596.2 573.3,1596.2C575.2,1596.2 577.5,1587.5 579,1580.8C581.6,1569 581.3,1549.2 583,1530.7C585.1,1507.7 585.7,1467.5 590.7,1453.5C592.8,1447.6 596.2,1442.2 598.4,1442C599.8,1441.9 601,1443.7 602,1446C604.9,1452.8 604.6,1476.3 605.8,1492C607.1,1508.4 608,1525.8 609.6,1542.2C611.2,1558 613.5,1573.1 615.4,1588.5C617.3,1603.9 619.3,1619.1 621.2,1634.8C623.2,1651.2 624.9,1669.8 627,1685C628.8,1697.6 629.5,1713.1 632.8,1719.6C634.4,1722.7 636.6,1725.7 638.6,1725.4C642.1,1724.9 646.2,1709.3 650,1704.2C652.6,1700.7 655.7,1695.9 657.8,1696.5C661.1,1697.5 662,1713.7 663.6,1723.5C665.4,1735.2 666.2,1749.2 667.5,1762C668.8,1774.9 669.6,1788.5 671.3,1800.6C672.8,1811.5 674,1821.7 677,1831.5C679.9,1841 684.1,1851.7 688.7,1858.5C692.2,1863.6 696.6,1870.3 700.3,1870C704.3,1869.7 708.2,1860.4 711.8,1854.6C716,1847.8 719.7,1831.5 723.4,1831.5C726.8,1831.5 730.1,1844.3 733,1850.8C735.9,1857.2 738.1,1864 740.8,1870C743.3,1875.5 745.4,1885 748.5,1885.5C751.2,1885.9 754.8,1879.7 758,1875.8C761.9,1871 764.7,1861.6 769.7,1858.5C774,1855.9 780.1,1858.3 785,1856.6C790.4,1854.7 796.7,1852 800.5,1847C805.2,1840.8 806.2,1830.7 808.3,1820C811.2,1805.2 811.6,1782.9 814,1766C816.2,1750.9 816.9,1729.9 821.7,1723.5C823.9,1720.6 827.5,1718.5 829.5,1719.6C833.8,1722 831.8,1747 833.3,1762C835,1778.9 836.3,1800.6 839,1816C841.1,1827.8 842.9,1839.5 846.8,1847C849.4,1852.2 852.9,1857.6 856.5,1858.5C859.4,1859.3 862.8,1856.1 866,1855C869.3,1853.9 872.9,1851.4 876.3,1851.9C880.2,1852.5 884.5,1860.4 888,1860C891.5,1859.6 894.8,1853.8 897.4,1849.5C900.5,1844.4 901.9,1837.4 904.4,1830.8C907.2,1823.4 909.7,1813.2 913.7,1807.5C916.7,1803.2 920.7,1798 924.2,1798C927.7,1798 931.4,1804 934.7,1807.5C938.1,1811.1 940.5,1816.7 944,1819.2C946.9,1821.3 950.3,1823.2 953.4,1822.7C957.2,1822.1 961.3,1816.8 965,1813.3C969,1809.5 973.6,1805.5 976.7,1800.5C980,1795.1 981.3,1787.8 983.7,1781.8C986,1776.2 987.8,1770.3 990.7,1765.5C993.3,1761.1 996.4,1757 1000,1753.8C1003.5,1750.8 1007.9,1746.8 1011.8,1746.8C1015.7,1746.8 1020,1750.6 1023.4,1753.8C1027.2,1757.4 1029.8,1762.9 1032.8,1767.8C1036,1772.9 1038.6,1778.7 1042,1784C1045.6,1789.6 1049.4,1796.5 1053.8,1800.5C1057.4,1803.8 1061.3,1807 1065.5,1807.5C1069.9,1808 1074.8,1805.3 1079.5,1802.8C1085.2,1799.8 1091.2,1794.3 1097,1790" stroke="#00bfff" stroke-dasharray="8 6"/>
<path d="M81,1754C91.7,1754 103.5,1753.1 113,1754C120.8,1754.7 128.2,1755.6 134,1758C138.8,1760 142,1763.8 146,1766C149.7,1768 153.1,1771 157,1771C161.4,1771 166.4,1768.4 171,1765C177.4,1760.2 183.3,1748.4 190,1742C196,1736.3 203,1728.5 209,1728C213.9,1727.6 218.6,1731.6 223,1735C228.1,1738.9 233,1745.7 237,1751C240.5,1755.7 242.4,1763 246,1765C248.7,1766.5 252.2,1766.4 255,1765C258.8,1763 261.1,1755.4 265,1751C269.1,1746.4 275.2,1737.3 279,1738C282.9,1738.7 285.5,1749.1 288,1756C291.1,1764.6 292.6,1776.5 295,1786C297.2,1794.7 298.1,1809.2 302,1811C304.4,1812.1 308,1809.2 311,1807C315.1,1804 319.4,1797.3 323,1793C326,1789.4 328.3,1782.9 331,1783C334,1783.2 336.9,1791.9 340,1797C343.5,1802.8 346.4,1810.8 351,1816C355.4,1821 361.8,1828.8 367,1828C373.7,1826.9 379.3,1808.9 386.3,1800.6C392.9,1792.8 401.4,1779 407.5,1779.4C412.7,1779.7 417,1790.1 421,1796.8C425.6,1804.6 428.5,1817.8 432.6,1823.8C435.1,1827.5 437.5,1831.5 440.3,1831.5C443.8,1831.5 448.8,1824.4 451.8,1820C454.7,1815.6 456.4,1810.7 458,1805C459.9,1798.1 460.5,1792.3 461.5,1781.4C463.7,1757.4 464.1,1707 465.3,1665.7C466.7,1618 467.3,1556.8 469.2,1511.4C470.7,1475.5 471.6,1437.7 475,1415C476.9,1402.4 478.8,1386.3 482,1386C485.2,1385.7 490.5,1404.5 494.3,1415C498.6,1426.8 501.9,1440.8 505.8,1453.5C509.6,1465.9 513.8,1490.4 517.4,1490.2C521.7,1490 525.4,1452.3 529,1434.3C532.4,1417.6 533.9,1386.7 538.6,1386C542.2,1385.5 547.6,1403.2 552,1411C555.9,1417.9 560.1,1423 563.7,1430.4C568,1439.3 572.1,1450 575.2,1461.3C578.8,1474.2 580.1,1503.7 583,1503.7C586.4,1503.7 590.2,1458.9 594.5,1445.8C596.9,1438.7 599.2,1430.1 602,1430C604.9,1429.9 608.9,1439.6 611.6,1445.8C614.9,1453.4 616.6,1463.2 619.3,1472.8C622.4,1483.6 624.4,1501.9 629,1507.5C631.2,1510.2 634,1511.1 636.6,1511.4C639.1,1511.7 642.2,1508.3 644.4,1509.5C648.1,1511.5 649.9,1522.7 652,1530.7C654.6,1540.7 654.8,1565.1 657.8,1565.4C660.3,1565.7 664.1,1548.5 667.5,1542.2C670,1537.6 672.8,1530.4 675.2,1530.7C678.7,1531.1 682.1,1547.8 684.8,1557.7C688,1569.3 689.6,1583.7 692.6,1596.2C695.5,1608.1 698.2,1622 702.2,1631C705,1637.4 708.2,1646 711.8,1646.4C715.3,1646.8 719.5,1637.8 723.4,1634.8C726.6,1632.3 729.9,1628.8 733,1629C736.3,1629.2 739.1,1634.8 742.7,1636.7C746.2,1638.6 751,1637.6 754.3,1640.6C759.3,1645.1 762,1658.2 765.8,1665.7C769,1672.1 771.5,1680.6 775.5,1683C778.3,1684.6 781.7,1684 785,1683C789.3,1681.6 794.8,1672.6 798.6,1673.4C802.6,1674.2 805.6,1682.4 808.3,1688.8C812,1697.8 813.5,1711.6 816,1723.5C818.6,1736 821,1749.9 823.7,1762C826.1,1772.9 827.9,1783.6 831.4,1793C834.5,1801.4 838.2,1811.2 843,1816C846.4,1819.4 851.3,1821.1 854.5,1821.8C856.6,1822.2 858.2,1822.5 860,1821.5C863.2,1819.7 866.3,1812.6 869.3,1807.5C872.6,1801.8 876.1,1795.7 878.7,1788.8C881.7,1781 883.7,1771.2 885.7,1763C887.5,1755.7 888.2,1748.2 890.4,1742C892.3,1736.7 894.8,1731.2 897.4,1728C899.2,1725.8 900.9,1723.5 903.2,1723.4C906.1,1723.3 910.6,1727.1 913.7,1730.4C917.4,1734.4 919.7,1742.9 923,1746.8C925.3,1749.5 927.5,1752.6 930,1752.6C932.9,1752.6 936.2,1747 939.4,1744.4C942.5,1741.9 945.2,1739 948.7,1737.4C952.2,1735.7 956.3,1734.5 960.4,1734.6C964.9,1734.7 969.7,1736.6 974.4,1738.6C979.8,1740.9 985,1745.3 990.7,1748C996.6,1750.8 1003.1,1753.1 1009.4,1755C1015.6,1756.9 1021,1758.6 1028,1759.6C1036.9,1760.9 1049,1761.1 1058.5,1760.8C1066.8,1760.6 1074.9,1759.6 1081.8,1758.5C1087.4,1757.6 1091.9,1756.2 1097,1755" stroke="#009a7c"/>
</g>
<text class="tk" x="81" y="2066" text-anchor="middle">0</text>
<text class="tk" x="182.5" y="2066" text-anchor="middle">0.5</text>
<text class="tk" x="284" y="2066" text-anchor="middle">1</text>
<text class="tk" x="385.5" y="2066" text-anchor="middle">1.5</text>
<text class="tk" x="487" y="2066" text-anchor="middle">2</text>
<text class="tk" x="588.5" y="2066" text-anchor="middle">2.5</text>
<text class="tk" x="690" y="2066" text-anchor="middle">3</text>
<text class="tk" x="791.5" y="2066" text-anchor="middle">3.5</text>
<text class="tk" x="893" y="2066" text-anchor="middle">4</text>
<text class="tk" x="994.5" y="2066" text-anchor="middle">4.5</text>
<text class="tk" x="1096" y="2066" text-anchor="middle">5</text>
<text class="tk" x="67.5" y="2033.7" text-anchor="end">-1</text>
<text class="tk" x="67.5" y="1899.9" text-anchor="end">-0.5</text>
<text class="tk" x="67.5" y="1766" text-anchor="end">0</text>
<text class="tk" x="67.5" y="1632.2" text-anchor="end">0.5</text>
<text class="tk" x="67.5" y="1498.4" text-anchor="end">1</text>
<text class="tk" x="67.5" y="1364.5" text-anchor="end">1.5</text>
<text class="tk" x="67.5" y="1230.7" text-anchor="end">2</text>
<text class="ex" x="83" y="1214.5" font-size="35">×</text>
<text class="ex" x="106.5" y="1210.7" font-size="32">10</text>
<text class="ex" x="142" y="1196.8" font-size="25">-7</text>
<text class="ts" x="1021" y="2004">t(s)</text>
<rect x="895" y="1243" width="176" height="236" fill="#fff" stroke="#1a1a1a" stroke-width="1.8"/>
<line x1="904" y1="1285.5" x2="998" y2="1285.5" stroke="#ff0000" stroke-width="9" stroke-dasharray="29 27"/>
<text class="lg" x="1004.5" y="1302.5">ε<tspan class="lgs" x="1034" y="1311.0">x</tspan></text>
<line x1="904" y1="1361.5" x2="998" y2="1361.5" stroke="#00bfff" stroke-width="9" stroke-dasharray="8 6"/>
<text class="lg" x="1004.5" y="1378.5">ε<tspan class="lgs" x="1034" y="1387.0">y</tspan></text>
<line x1="904" y1="1437.5" x2="998" y2="1437.5" stroke="#009a7c" stroke-width="9"/>
<text class="lg" x="1004.5" y="1454.5">ε<tspan class="lgs" x="1034" y="1463.0">z</tspan></text>
</g>
<g id="axd">
<clipPath id="cld"><rect x="1412" y="1218" width="1015" height="803"/></clipPath>
<path d="M1412,2021v-11M1412,1218v11M1513.5,2021v-11M1513.5,1218v11M1615,2021v-11M1615,1218v11M1716.5,2021v-11M1716.5,1218v11M1818,2021v-11M1818,1218v11M1919.5,2021v-11M1919.5,1218v11M2021,2021v-11M2021,1218v11M2122.5,2021v-11M2122.5,1218v11M2224,2021v-11M2224,1218v11M2325.5,2021v-11M2325.5,1218v11M2427,2021v-11M2427,1218v11M1412,2021h11M2427,2021h-11M1412,1860.4h11M2427,1860.4h-11M1412,1699.8h11M2427,1699.8h-11M1412,1539.2h11M2427,1539.2h-11M1412,1378.6h11M2427,1378.6h-11M1412,1218h11M2427,1218h-11" stroke="#262626" stroke-width="2" fill="none"/>
<rect x="1412" y="1218" width="1015" height="803" fill="none" stroke="#262626" stroke-width="2"/>
<g clip-path="url(#cld)" fill="none" stroke-width="9" stroke-linejoin="round">
<path d="M1412,1860.4C1415,1859.3 1417.4,1857.7 1421,1857C1426.1,1856.1 1433.6,1856.5 1440,1857C1446.6,1857.5 1454.7,1861.2 1460,1860C1464,1859.1 1466.6,1856.2 1469.6,1853.7C1472.6,1851.2 1475.3,1847.9 1478,1845C1480.7,1842.1 1482.7,1838.7 1485.7,1836.2C1488.7,1833.7 1492.4,1831.3 1496,1830C1499.5,1828.7 1503.5,1827.4 1507,1828.2C1510.9,1829.1 1514.3,1833.2 1518,1836C1521.9,1839 1526,1842.1 1529.9,1845.6C1534,1849.4 1537.7,1854.5 1542,1858C1546.1,1861.3 1551.2,1863.4 1555,1866C1558,1868.1 1560.3,1869.8 1563,1872C1566,1874.4 1569.2,1876.6 1572,1880C1575.6,1884.3 1578.7,1890.9 1582,1896.5C1585.4,1902.2 1588.8,1913.9 1592,1914C1594.6,1914.1 1597.4,1907.1 1599.5,1903.2C1601.7,1899.1 1603,1894.3 1605,1890C1607,1885.8 1608.9,1881.2 1611.6,1877.8C1614,1874.7 1617.1,1872.5 1620,1870C1622.9,1867.5 1626.6,1866.1 1629,1863C1631.7,1859.6 1633.4,1854.6 1635,1850C1636.6,1845.3 1637.5,1841.1 1638.5,1835C1640,1825.8 1640.7,1811.4 1642,1800C1643.2,1789.1 1644.5,1768 1646,1768C1647.2,1768 1648.7,1782.9 1650,1790C1651.2,1796.7 1652,1804 1653.7,1809.6C1655.1,1814.1 1656.4,1820.6 1658.7,1821.4C1660.4,1822 1662.8,1818.8 1665,1818C1667.2,1817.1 1669.3,1816.2 1672,1816.3C1675.7,1816.4 1680.8,1819 1685,1820C1689,1820.9 1693.1,1820.6 1696.6,1822C1700,1823.3 1702.4,1827.9 1705.8,1828C1709.8,1828.1 1715.7,1819.3 1719.3,1820C1722.6,1820.6 1724.4,1826.9 1727,1830C1729.5,1832.9 1732.2,1834.5 1734.5,1838.2C1738,1843.8 1740.2,1856.1 1743.7,1861.8C1746,1865.6 1749,1870.4 1751.3,1870.2C1753.7,1870 1755.8,1863.5 1758,1860C1760.3,1856.3 1763.1,1848.1 1764.8,1848.3C1766.4,1848.5 1766.8,1856 1768,1860C1769.3,1864.4 1770.7,1868.4 1772.3,1873.6C1774.5,1880.7 1775.7,1895.2 1780,1898.8C1782.7,1901 1787.2,1901 1790,1900C1792.8,1899 1794.6,1894.8 1797,1893C1799.1,1891.5 1801.6,1889 1803.5,1889.6C1805.9,1890.3 1807.1,1896.5 1809.4,1900C1811.9,1903.9 1815.9,1907.1 1818,1912C1820.6,1918.2 1820.9,1926.3 1822,1935C1823.5,1946.4 1823,1974.1 1825.4,1974.6C1826.6,1974.8 1828.3,1969 1830,1966C1831.8,1962.8 1833.5,1959.9 1836,1956C1839.8,1950.1 1846.2,1940.2 1850.6,1934C1854,1929.3 1857.1,1925.8 1860,1922C1862.6,1918.6 1865.5,1916.7 1867.4,1912.3C1870.5,1905.2 1869.6,1890.2 1872.5,1882C1874.7,1875.8 1877.6,1867.7 1881,1866.8C1883.6,1866.1 1887.8,1873 1890,1872C1893.3,1870.6 1893.5,1857.6 1895,1850C1896.6,1842 1896.6,1831.6 1899,1825C1900.8,1820.1 1903.3,1813.4 1906,1813C1908.6,1812.7 1912,1818.5 1915,1822C1918.6,1826.2 1921.6,1833.1 1926,1837C1930.1,1840.6 1935.3,1842.1 1940,1845C1945,1848.1 1950.1,1852.1 1955,1855C1959.4,1857.7 1964.9,1863.5 1968,1862C1972.7,1859.7 1970.1,1838.1 1973,1828C1975.5,1819.4 1978.7,1806 1983,1805C1986.4,1804.2 1991.7,1811.1 1995,1815C1998.3,1818.8 2000.6,1822.6 2003,1828C2006.3,1835.4 2007.3,1849.3 2011,1856C2013.5,1860.6 2016.5,1864.7 2020,1866C2023,1867.2 2026.2,1866 2030,1865C2035.6,1863.5 2044.4,1859.7 2050,1856C2054.8,1852.8 2059,1844.3 2062,1845C2065,1845.7 2066,1855 2068,1860C2070,1865 2072.1,1868.9 2074,1875C2076.9,1884.1 2078.4,1909.4 2082,1910C2084.5,1910.4 2088.5,1900.8 2091,1895C2094.1,1887.9 2096.1,1879.4 2098,1870C2100.4,1858.3 2101.3,1842.9 2103,1830C2104.6,1817.9 2105.3,1801.2 2108,1795C2109.1,1792.3 2111,1789.7 2112,1790C2114.2,1790.7 2113.5,1810.2 2114,1820C2114.5,1829.5 2112,1846.8 2115,1848C2117.4,1848.9 2122.5,1838.1 2127,1836C2130.9,1834.2 2135.6,1834.5 2140,1835C2144.9,1835.6 2151.4,1837.1 2155,1840C2158.1,1842.5 2159.5,1845.8 2161,1850C2163,1855.7 2162.9,1864.6 2164,1872C2165.2,1879.6 2165.2,1888.4 2168,1895C2170.5,1900.9 2174.8,1908.9 2179,1910C2182.3,1910.9 2187,1904.2 2190,1905C2193,1905.8 2195.1,1911.8 2197,1915C2198.6,1917.8 2199.1,1922.6 2201,1923C2203.2,1923.4 2207,1917.9 2210,1915C2213.3,1911.9 2216.4,1908.3 2220,1905C2223.7,1901.6 2228,1898.1 2232,1895C2235.7,1892.1 2240,1891 2243,1887C2246.9,1881.7 2247.2,1865.3 2251,1864C2253.5,1863.2 2257.1,1868.1 2260,1870C2262.7,1871.8 2265.4,1875.3 2268,1875C2271.1,1874.7 2273.4,1868.2 2277,1866C2280.7,1863.8 2286,1861.8 2290,1862C2293.6,1862.1 2296.5,1864.4 2300,1866C2304.1,1867.9 2308.6,1870.6 2313,1873C2317.6,1875.6 2322.5,1881.2 2327,1881C2331.5,1880.8 2336.1,1875.3 2340,1872C2343.7,1868.9 2345.3,1863.8 2350,1862C2356.6,1859.5 2369.9,1861.3 2378,1864C2385.3,1866.4 2389.6,1874.8 2397,1876C2405.8,1877.4 2417.7,1870.7 2428,1868" stroke="#ff0000" stroke-dasharray="29 27"/>
<path d="M1412,1860.4C1430.7,1860.4 1457,1855.6 1468,1860.4C1473.9,1863 1475.1,1868.9 1479,1872.4C1482.8,1875.7 1486.8,1880.7 1491,1881C1495.3,1881.3 1500.2,1876.1 1504.4,1873.7C1508.2,1871.5 1511.7,1869.6 1515,1867C1518.4,1864.3 1520.9,1860.2 1524.5,1857.7C1528.1,1855.3 1532.7,1854.5 1536.6,1852.3C1540.7,1850 1544.9,1847.1 1548.6,1844.3C1552,1841.7 1555.8,1839.5 1558,1836.2C1560.3,1832.8 1559.8,1824.7 1562,1824.2C1564.2,1823.7 1569,1829.9 1571.4,1833.6C1573.9,1837.5 1574.4,1842.9 1576.7,1847C1578.9,1850.9 1582.7,1853 1584.8,1857.7C1587.8,1864.4 1586.9,1878.8 1590,1884.5C1591.8,1887.9 1594.2,1891.1 1596.8,1891.2C1599.9,1891.3 1604.8,1885.3 1607.5,1881.8C1610,1878.5 1610.4,1873.5 1613,1871C1615.4,1868.7 1619.3,1868.4 1622.3,1867C1625.1,1865.7 1627.5,1864.4 1630.3,1863C1633.4,1861.5 1637.1,1858.2 1640.2,1858.4C1643.2,1858.6 1646.5,1864.3 1648.6,1863.5C1651.5,1862.4 1651.8,1851.4 1653.7,1846.6C1655.2,1842.7 1656.2,1837.1 1658.7,1836.5C1661.5,1835.8 1666.9,1841.7 1670.5,1845C1674.2,1848.4 1677.7,1852.9 1680.6,1856.7C1683.2,1860.1 1684.9,1863.3 1687.3,1866.8C1689.9,1870.6 1692.3,1878 1695.7,1878.6C1699.1,1879.2 1703.9,1873.5 1707.5,1870.2C1711.2,1866.8 1714.3,1861.9 1717.6,1858.4C1720.5,1855.3 1723,1850.1 1726,1850C1729.2,1849.9 1733.6,1855 1736.1,1858.4C1738.6,1861.8 1738.7,1866.8 1741.2,1870.2C1743.7,1873.6 1747.6,1878.5 1751.3,1878.6C1755.4,1878.7 1761.7,1872.5 1764.8,1868.5C1767.5,1865 1768.7,1861 1769.8,1856.7C1771,1852.1 1770.8,1846.5 1771.5,1841.6C1772.2,1837 1772.8,1832.3 1774,1828.1C1775.1,1824.2 1776.2,1817.5 1778.2,1817.2C1780.3,1816.9 1784.1,1824.3 1786.6,1828.1C1789.1,1831.9 1790.9,1836.7 1793.4,1840C1795.5,1842.7 1797.9,1846.8 1800,1846.6C1802.4,1846.4 1805.3,1840.7 1806.8,1836.5C1808.8,1830.8 1808.1,1822.8 1808.5,1814.7C1809,1804.7 1808.8,1791.9 1809.4,1781C1810,1770.6 1811,1761.3 1811.9,1750.7C1812.9,1739 1814,1724.7 1815.3,1713.7C1816.3,1704.9 1817.9,1700.2 1818.7,1690C1820.1,1672 1819.5,1641.1 1819.9,1614.5C1820.3,1584.5 1820.4,1550.8 1821,1519C1821.6,1487.1 1822.9,1453 1823.5,1423.4C1824,1397.8 1824,1374.3 1824.6,1351.7C1825.2,1331.5 1825.8,1294.3 1827,1294.3C1828.2,1294.3 1830.2,1332.4 1831.8,1351.7C1833.4,1371.4 1835.1,1392.6 1836.6,1411.4C1837.9,1428.2 1838.8,1443.3 1840.2,1459.2C1841.6,1475.1 1843.3,1492.2 1845,1507C1846.5,1519.8 1848.1,1530.9 1849.7,1542.8C1851.3,1554.8 1852.9,1566.7 1854.5,1578.7C1856.1,1590.6 1857.5,1602.6 1859.3,1614.5C1861.1,1626.5 1862.8,1638.9 1865.3,1650.4C1867.6,1661.2 1870.2,1674.5 1873.6,1681.4C1875.5,1685.4 1878.4,1686.5 1880,1690C1882.1,1694.4 1882,1700.9 1883.8,1706.5C1885.7,1712.7 1888.4,1720.4 1891.4,1725.5C1893.7,1729.4 1896.9,1731.2 1899,1735C1901.5,1739.7 1902.8,1746.3 1904.7,1752C1906.6,1757.7 1908.4,1763.1 1910.4,1769.2C1912.7,1776.3 1914.9,1785.3 1918,1792C1920.7,1797.8 1924.1,1802.9 1927.5,1807.2C1930.5,1810.9 1933.6,1813.6 1937,1816.7C1940.6,1819.9 1945.6,1822.4 1948.4,1826.2C1951.2,1830 1952.2,1834.6 1954,1839.5C1956.1,1845.2 1957.9,1852.2 1959.8,1858.5C1961.7,1864.8 1963.9,1871.1 1965.5,1877.5C1967.1,1883.8 1968,1890.3 1969.3,1896.5C1970.5,1902.4 1970.4,1912.7 1973,1913.6C1975.2,1914.4 1979.3,1909.2 1982.6,1906C1986.9,1902 1991.4,1895.6 1995.9,1890.8C2000.3,1886.1 2004.3,1881 2009.2,1877.5C2013.9,1874.1 2019.7,1872.3 2024.4,1869.9C2028.5,1867.8 2032.9,1866.9 2035.8,1864C2038.6,1861.2 2039.4,1856.5 2041.5,1852.8C2043.7,1849 2045.9,1842.4 2049,1841.4C2051.7,1840.5 2055.7,1842.9 2058.6,1845.2C2062.2,1848.1 2066.1,1853.5 2068,1858.5C2070,1863.6 2067.6,1871.4 2070,1875.6C2072,1879.2 2076.5,1880.1 2079.5,1883.2C2082.9,1886.8 2085.1,1894.5 2089,1896.5C2092.3,1898.2 2097.3,1898 2100.4,1896.5C2103.6,1894.9 2105.8,1891.1 2108,1887C2111.1,1881.2 2113.1,1871.8 2115.6,1864C2118.2,1856 2120.9,1845.3 2123.2,1839.5C2124.5,1836.2 2125,1832.7 2127,1831.9C2129.2,1831 2133.3,1834.7 2136.5,1835.7C2139.6,1836.6 2143.6,1839.2 2146,1837.6C2150,1835 2150.1,1820 2151.7,1811C2153.3,1801.7 2154.1,1792 2155.7,1782.5C2157.3,1773 2160.1,1764.8 2161.4,1754C2163,1740.2 2162.1,1720.3 2163.3,1706.5C2164.2,1695.8 2164.1,1684.7 2167,1678C2168.9,1673.6 2172.9,1672.8 2174.7,1668.5C2177.4,1662.1 2176.4,1642.1 2178,1642C2179.6,1641.9 2182.9,1659.4 2184.2,1668.5C2185.6,1677.8 2185.4,1687.5 2186,1697C2186.6,1706.5 2187,1716 2188,1725.5C2189,1735 2190.5,1744.5 2191.8,1754C2193.1,1763.5 2193.9,1773.4 2195.6,1782.5C2197.2,1791.1 2199.3,1799.5 2201.3,1807.2C2203.1,1814 2204.2,1820.9 2207,1826.2C2209.5,1830.8 2212.8,1834.7 2216.5,1837.6C2219.9,1840.3 2224.3,1842 2228,1843.3C2231.2,1844.4 2234.3,1846 2237.4,1845.2C2241.3,1844.2 2244.8,1836.2 2248.8,1835.7C2252.5,1835.3 2256.6,1838.8 2260.2,1841.4C2264.3,1844.3 2267.7,1849.4 2271.6,1852.8C2275.3,1856 2279,1859.8 2283,1861.3C2286.6,1862.7 2290.5,1861.3 2294.4,1862.3C2298.7,1863.4 2303.9,1865.4 2307.7,1868C2311.4,1870.5 2313.8,1874.5 2317.2,1877.5C2320.7,1880.5 2324.7,1885.5 2328.6,1886C2332.3,1886.5 2336,1883.1 2340,1881.3C2344.7,1879.1 2350.2,1875.6 2355.2,1873.7C2359.7,1872 2364.1,1871.2 2368.5,1869.9C2372.9,1868.6 2377.3,1867 2381.8,1866C2386.2,1865.1 2390.4,1864.5 2395,1864.2C2399.9,1863.9 2405,1864.5 2410.3,1864.2C2416,1863.9 2422.1,1862.9 2428,1862.3" stroke="#00bfff" stroke-dasharray="8 6"/>
<path d="M1412,1860.4C1430.7,1860.4 1456.7,1857.8 1468,1860.4C1473.3,1861.6 1475.5,1864.1 1479,1865.7C1482.1,1867.2 1484.9,1868 1488,1869.7C1491.6,1871.7 1495.9,1875.7 1499,1877C1500.9,1877.8 1502,1878.2 1504,1878C1507,1877.7 1511.2,1875.5 1515,1873.7C1519.4,1871.6 1523.8,1867.5 1528.5,1865.7C1532.9,1864 1537.5,1863.9 1542,1863C1546.4,1862.1 1551.4,1861.6 1555,1860.4C1557.8,1859.5 1559.6,1857.2 1562,1857C1564.3,1856.8 1566.9,1857.7 1569,1859C1571.3,1860.4 1572.9,1863.7 1575,1865.7C1576.9,1867.6 1578.7,1869.9 1581,1871C1583.3,1872.1 1586.6,1872.9 1589,1872.4C1591.4,1871.9 1593,1869.6 1595.5,1868.4C1598.5,1866.9 1602.4,1865.1 1606,1864.4C1609.6,1863.7 1613.3,1864.4 1617,1864.4C1620.7,1864.4 1624.7,1863.7 1628,1864.4C1631,1865 1633.6,1867 1636,1868C1637.9,1868.8 1639.7,1868.4 1641,1870C1643.5,1873.1 1643.1,1882.9 1644,1890C1645.1,1898 1645.4,1915.4 1647,1915.6C1647.9,1915.7 1649.3,1910.3 1650.4,1907C1651.7,1902.9 1652.4,1897.5 1654,1893C1655.6,1888.6 1657.2,1883.3 1660,1880.3C1662.4,1877.7 1665.7,1875.6 1668.8,1875.3C1672,1875 1676,1876.7 1679,1878.6C1682.2,1880.6 1684.6,1883.8 1687.3,1887C1690.2,1890.5 1692.2,1897.4 1695.7,1898.8C1698.6,1900 1702.4,1897.4 1705.8,1897.1C1709.2,1896.8 1713.3,1895.5 1716,1897.1C1719.1,1898.9 1720.1,1908.7 1722.7,1909C1725.1,1909.3 1727.8,1902.2 1731,1900.5C1734,1898.9 1738.1,1900.7 1741.2,1898.8C1745.1,1896.4 1747.7,1889.3 1751.3,1885.4C1754.5,1881.9 1758.7,1875.9 1761.4,1876.1C1763.4,1876.2 1765.1,1879.1 1766.4,1882C1768.8,1887.3 1768.7,1898.2 1769.8,1907.2C1771,1917.6 1772.1,1929.7 1773.2,1941C1774.3,1952.2 1774.4,1974.3 1776.5,1974.6C1777.8,1974.8 1779.5,1966.5 1781.6,1962.8C1783.7,1959.2 1787.3,1952.4 1789.2,1952.7C1791.3,1953.1 1792.3,1960.4 1793.4,1966.2C1795.3,1976.2 1795.2,2007.9 1796.7,2008C1798.1,2008 1799.7,1984.9 1801.8,1974.6C1803.7,1965.5 1806.7,1958.9 1808.5,1949.3C1810.8,1937.1 1812.2,1921.2 1813.6,1907.2C1815,1893.2 1815,1874.8 1817,1865.2C1818.1,1860 1819.9,1859.6 1821,1853.4C1824.4,1833.1 1821.6,1759 1822.3,1720C1822.9,1689.5 1823,1658.1 1824.6,1638.4C1825.5,1627.1 1826.9,1612 1828.2,1612C1829.7,1612 1831,1637.9 1833,1650.4C1835,1662.6 1837.8,1674.4 1840.2,1686.2C1842.6,1697.6 1844.6,1712 1847.3,1720C1848.9,1724.6 1850.6,1726 1852.3,1730.5C1855.1,1737.9 1856.8,1752.5 1860.7,1760.8C1863.9,1767.5 1869.2,1772.1 1872.5,1777.6C1875.5,1782.5 1877.4,1787.5 1880,1792C1882.4,1796.1 1884.7,1799.9 1887.6,1803.4C1890.4,1806.9 1894.7,1809.6 1897,1813C1899,1816 1898.9,1819.7 1901,1822.4C1903.3,1825.4 1907.1,1827.3 1910.4,1830C1914,1833 1917.5,1837 1921.8,1839.5C1926.3,1842.1 1932.3,1843.5 1937,1845.2C1941.1,1846.6 1945,1846.9 1948.4,1849C1952,1851.2 1954.5,1857.8 1957.9,1858.5C1960.9,1859.1 1965,1857.4 1967.4,1854.7C1970.9,1850.8 1970.3,1838.4 1973,1833.8C1974.6,1831 1976.4,1828.2 1978.8,1828C1981.9,1827.7 1986.2,1833.2 1990.2,1835.7C1994.4,1838.3 2000.1,1844.4 2003.5,1843.3C2007.1,1842.2 2008.8,1833.3 2011,1828C2013.3,1822.6 2014.6,1814.5 2016.8,1811C2018,1809.1 2019.1,1807.2 2020.6,1807.2C2023,1807.2 2027.1,1813.5 2030,1816.7C2032.8,1819.8 2034.6,1823 2037.7,1826.2C2041.4,1830 2047.8,1833.4 2051,1837.6C2053.8,1841.1 2055.2,1844.2 2056.7,1849C2058.9,1856.2 2057.9,1870.8 2060.5,1877.5C2062.1,1881.8 2065.4,1882.9 2067,1887C2069.2,1892.8 2067.6,1905 2070,1909.8C2071.4,1912.7 2073.9,1915.9 2075.7,1915.5C2078.5,1914.9 2080.6,1902.4 2083.3,1896.5C2085.7,1891.1 2087.9,1884.4 2091,1881.3C2093.2,1879.1 2096.4,1879.7 2098.5,1877.5C2101.4,1874.4 2103.1,1862.2 2105,1862.3C2106.9,1862.4 2108.7,1871.3 2110,1877.5C2112,1886.9 2110.6,1907 2113.7,1913.6C2115.2,1916.7 2117.9,1916.4 2119.4,1919.3C2122,1924.4 2122,1935.1 2123.2,1944C2124.6,1954.4 2124.8,1977.7 2127,1978C2128.5,1978.2 2130.9,1969.2 2132.7,1963C2135.5,1953.3 2137.8,1937.7 2140.3,1925C2142.8,1912.3 2145.8,1901 2147.9,1887C2150.5,1870 2150.9,1840 2153.8,1830C2154.9,1826.1 2155.9,1824.3 2157.6,1822.4C2159.1,1820.7 2161.8,1821.2 2163.3,1818.6C2167.5,1811.2 2163.2,1774.9 2165.2,1763.5C2166.2,1758.1 2166.7,1753.7 2169,1752C2170.9,1750.7 2174.7,1753.6 2176.6,1752C2180.1,1748.9 2179,1725.5 2180.4,1725.5C2181.8,1725.5 2183.6,1743.3 2185,1754C2186.8,1767.8 2187.7,1786.6 2190,1801.5C2192,1814.9 2194.3,1828.3 2197.5,1839.5C2200.2,1848.7 2202.6,1862.3 2207,1864.2C2209.7,1865.4 2213,1861.6 2216.5,1860.4C2220.5,1859 2226,1856.7 2229.8,1856.6C2232.7,1856.6 2235,1859.2 2237.4,1858.5C2240.2,1857.7 2241.7,1851.8 2245,1850.9C2248.9,1849.8 2255.1,1854.8 2260,1854.7C2264.6,1854.6 2268.6,1851.6 2273.5,1850.9C2279.2,1850.1 2287.3,1849.9 2292.5,1850.9C2296.3,1851.6 2298.2,1854.2 2302,1854.7C2307.2,1855.4 2314.7,1852.7 2321,1852.8C2327.3,1852.9 2332.6,1855 2340,1855.6C2350.5,1856.5 2367.5,1857.5 2378,1856.6C2385.5,1856 2391,1853.8 2397,1852.8C2402.3,1851.9 2406.9,1850.9 2412,1850.9C2417.2,1850.9 2422.7,1852.2 2428,1852.8" stroke="#009a7c"/>
</g>
<text class="tk" x="1412" y="2066" text-anchor="middle">0</text>
<text class="tk" x="1513.5" y="2066" text-anchor="middle">0.5</text>
<text class="tk" x="1615" y="2066" text-anchor="middle">1</text>
<text class="tk" x="1716.5" y="2066" text-anchor="middle">1.5</text>
<text class="tk" x="1818" y="2066" text-anchor="middle">2</text>
<text class="tk" x="1919.5" y="2066" text-anchor="middle">2.5</text>
<text class="tk" x="2021" y="2066" text-anchor="middle">3</text>
<text class="tk" x="2122.5" y="2066" text-anchor="middle">3.5</text>
<text class="tk" x="2224" y="2066" text-anchor="middle">4</text>
<text class="tk" x="2325.5" y="2066" text-anchor="middle">4.5</text>
<text class="tk" x="2427" y="2066" text-anchor="middle">5</text>
<text class="tk" x="1398.5" y="2033.7" text-anchor="end">-5</text>
<text class="tk" x="1398.5" y="1873.1" text-anchor="end">0</text>
<text class="tk" x="1398.5" y="1712.5" text-anchor="end">5</text>
<text class="tk" x="1398.5" y="1551.9" text-anchor="end">10</text>
<text class="tk" x="1398.5" y="1391.3" text-anchor="end">15</text>
<text class="tk" x="1398.5" y="1230.7" text-anchor="end">20</text>
<text class="ex" x="1414" y="1214.5" font-size="35">×</text>
<text class="ex" x="1437.5" y="1210.7" font-size="32">10</text>
<text class="ex" x="1473" y="1196.8" font-size="25">-8</text>
<text class="ts" x="2356" y="2001">t(s)</text>
<rect x="2226" y="1243" width="176" height="236" fill="#fff" stroke="#1a1a1a" stroke-width="1.8"/>
<line x1="2235" y1="1285.5" x2="2329" y2="1285.5" stroke="#ff0000" stroke-width="9" stroke-dasharray="29 27"/>
<text class="lg" x="2335.5" y="1302.5">ε<tspan class="lgs" x="2365" y="1311.0">x</tspan></text>
<line x1="2235" y1="1361.5" x2="2329" y2="1361.5" stroke="#00bfff" stroke-width="9" stroke-dasharray="8 6"/>
<text class="lg" x="2335.5" y="1378.5">ε<tspan class="lgs" x="2365" y="1387.0">y</tspan></text>
<line x1="2235" y1="1437.5" x2="2329" y2="1437.5" stroke="#009a7c" stroke-width="9"/>
<text class="lg" x="2335.5" y="1454.5">ε<tspan class="lgs" x="2365" y="1463.0">z</tspan></text>
</g>
<text class="cap" x="565.5" y="1078" text-anchor="middle">(a)</text>
<text class="cap" x="1895.8" y="1078" text-anchor="middle">(b)</text>
<text class="cap" x="565.5" y="2228" text-anchor="middle">(c)</text>
<text class="cap" x="1895.8" y="2228" text-anchor="middle">(d)</text>
</svg></body></html>
